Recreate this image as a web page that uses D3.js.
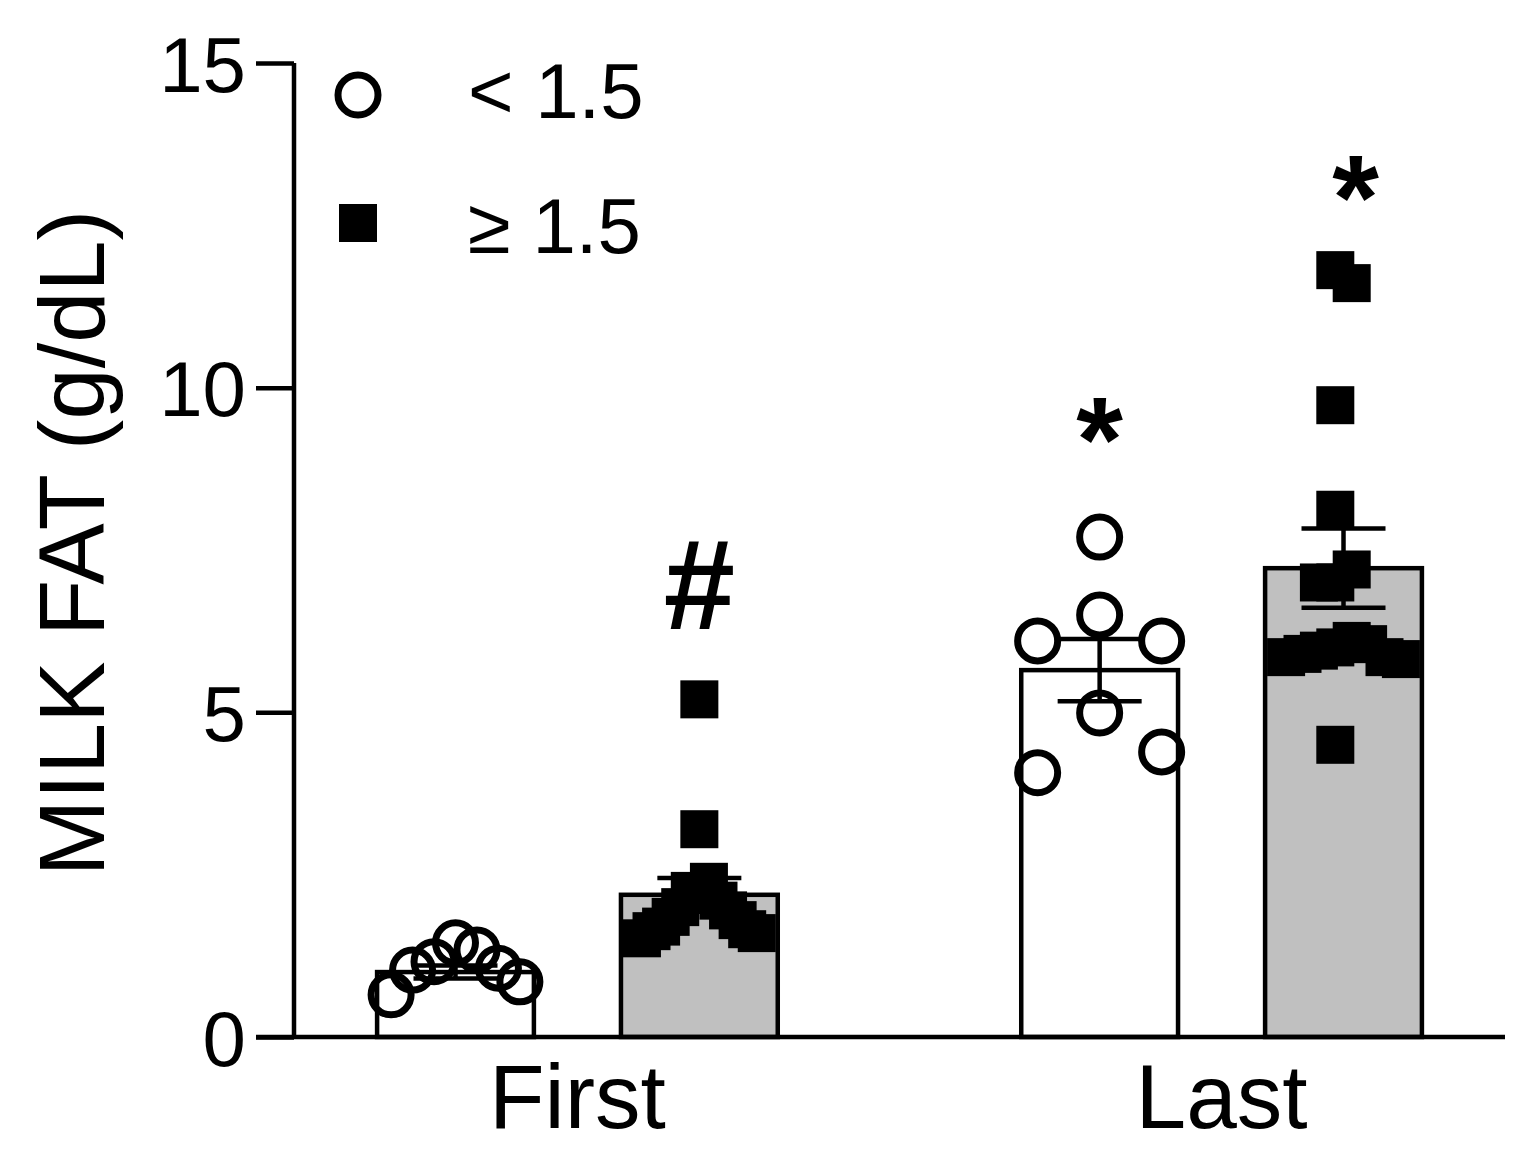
<!DOCTYPE html>
<html>
<head>
<meta charset="utf-8">
<script src="https://cdn.jsdelivr.net/npm/d3@7"></script>
<style>
  html, body { margin: 0; padding: 0; background: #fff; }
  svg { display: block; }
  text { font-family: "Liberation Sans", Arial, Helvetica, sans-serif; fill: #000; }
</style>
</head>
<body>
<svg id="chart" width="1533" height="1157"></svg>
<script>
// ---------------- data ----------------
const categories = ["First", "Last"];
const series = ["< 1.5", "\u2265 1.5"];
const yTicks = [0, 5, 10, 15];
const yLabel = "MILK FAT (g/dL)";

// bar means and SEM [First <1.5, First >=1.5, Last <1.5, Last >=1.5]
const barMeans = [1.0, 2.19, 5.65, 7.22];
const barSEM   = [0.10, 0.26, 0.48, 0.61];

// individual points
const firstLow  = [1.45, 1.34, 1.16, 1.06, 1.03, 0.85, 0.65];
const firstHigh = [5.2, 3.2, 2.39, 2.25, 2.2, 2.1, 2.0, 1.95, 1.85, 1.8, 1.7, 1.66, 1.63, 1.6, 1.52];
const lastLow   = [7.7, 6.5, 6.1, 6.1, 4.99, 4.39, 4.07];
const lastHigh  = [11.81, 11.61, 9.73, 8.12, 7.2, 7.0, 7.0, 6.1, 6.05, 6.0, 5.95, 5.9, 5.85, 5.85, 5.82, 4.5];

// significance marks (value at text baseline)
const marks = [
  { cat: "First", ser: "\u2265 1.5", text: "#", at: 6.28 },
  { cat: "Last",  ser: "< 1.5",       text: "*", at: 8.56 },
  { cat: "Last",  ser: "\u2265 1.5",  text: "*", at: 12.29 }
];

// ---------------- layout ----------------
const svg = d3.select("#chart");
const axisX = 294, axisY = 1037, topY = 63, rightX = 1505;
const black = "#000", grey = "#c0c0c0";
const lw = 4.5;

const y = d3.scaleLinear().domain([0, 15]).range([axisY, topY]);
const x0 = d3.scaleBand().domain(categories).range([axisX, rightX])
  .paddingInner(0.378).paddingOuter(0.129);
const x1 = d3.scaleBand().domain(series).range([0, x0.bandwidth()])
  .paddingInner(0.357).paddingOuter(0);

const groups = [
  { cat: "First", ser: series[0], vals: firstLow,  fill: "#fff", sym: "circle" },
  { cat: "First", ser: series[1], vals: firstHigh, fill: grey,   sym: "square" },
  { cat: "Last",  ser: series[0], vals: lastLow,   fill: "#fff", sym: "circle" },
  { cat: "Last",  ser: series[1], vals: lastHigh,  fill: grey,   sym: "square" }
];
groups.forEach((g, i) => { g.mean = barMeans[i]; g.sem = barSEM[i]; });

const bw = x1.bandwidth();
const circR = 20, circW = 7, sq = 38;

// lane-based scatter layout (deterministic)
function assignLanes(vals, thr) {
  const order = vals.map((v, i) => i).sort((a, b) => vals[b] - vals[a]);
  const lanes = new Array(vals.length);
  const placed = [];
  for (const i of order) {
    const yi = y(vals[i]);
    for (let k = 0; ; k++) {
      const lane = k === 0 ? 0 : (k % 2 ? (k + 1) / 2 : -k / 2);
      if (placed.every(p => p.lane !== lane || Math.abs(p.y - yi) >= thr)) {
        lanes[i] = lane; placed.push({ lane, y: yi }); break;
      }
    }
  }
  return lanes;
}

// ---------------- bars ----------------
groups.forEach(g => {
  const cx = x0(g.cat) + x1(g.ser);
  g.cx = cx + bw / 2;
  svg.append("rect")
    .attr("x", cx).attr("y", y(g.mean))
    .attr("width", bw).attr("height", axisY - y(g.mean))
    .attr("fill", g.fill).attr("stroke", black).attr("stroke-width", lw);
});

// ---------------- error bars ----------------
const capW = 84;
groups.forEach(g => {
  const e = svg.append("g").attr("stroke", black).attr("stroke-width", lw).attr("fill", "none");
  e.append("line").attr("x1", g.cx).attr("x2", g.cx)
    .attr("y1", y(g.mean + g.sem)).attr("y2", y(g.mean - g.sem));
  [g.mean + g.sem, g.mean - g.sem].forEach(v => {
    e.append("line").attr("x1", g.cx - capW / 2).attr("x2", g.cx + capW / 2)
      .attr("y1", y(v)).attr("y2", y(v));
  });
});

// ---------------- points ----------------
groups.forEach(g => {
  const lanes = assignLanes(g.vals, 62);
  const mn = d3.min(lanes), mx = d3.max(lanes);
  const span = mx - mn;
  const margin = g.sym === "circle" ? 28 : 42;
  const spacing = span ? Math.min(62, (bw - margin) / span) : 0;
  const shift = -(mn + mx) / 2;
  const pts = g.vals.map((v, i) => ({ v, px: g.cx + (lanes[i] + shift) * spacing }));
  if (g.sym === "circle") {
    svg.append("g").selectAll("circle").data(pts).join("circle")
      .attr("cx", d => d.px).attr("cy", d => y(d.v)).attr("r", circR)
      .attr("fill", "none").attr("stroke", black).attr("stroke-width", circW);
  } else {
    svg.append("g").selectAll("rect").data(pts).join("rect")
      .attr("x", d => d.px - sq / 2).attr("y", d => y(d.v) - sq / 2)
      .attr("width", sq).attr("height", sq).attr("fill", black);
  }
});

// ---------------- axes ----------------
const yAxis = d3.axisLeft(y).tickValues(yTicks).tickSize(38).tickPadding(10).tickFormat(d3.format("d"));
const ya = svg.append("g").attr("transform", `translate(${axisX},0)`).call(yAxis);
ya.select(".domain").attr("stroke", black).attr("stroke-width", lw)
  .attr("d", `M0,${topY}V${axisY}`);
ya.selectAll(".tick line").attr("stroke", black).attr("stroke-width", lw);
ya.selectAll(".tick text").attr("font-size", 78).attr("font-family", "Liberation Sans, Arial, sans-serif")
  .attr("fill", black).attr("dy", "0.36em").attr("x", -48);

const xAxis = d3.axisBottom(x0).tickSize(0).tickPadding(26);
const xa = svg.append("g").attr("transform", `translate(0,${axisY})`).call(xAxis);
xa.select(".domain").attr("stroke", black).attr("stroke-width", lw)
  .attr("d", `M${axisX - 38},0H${rightX}`);
xa.selectAll(".tick text").attr("font-size", 91).attr("font-family", "Liberation Sans, Arial, sans-serif")
  .attr("fill", black).attr("dy", "0.71em");

// y label
svg.append("text")
  .attr("transform", `translate(104,543) rotate(-90)`)
  .attr("text-anchor", "middle").attr("font-size", 92)
  .text(yLabel);

// ---------------- legend ----------------
const leg = svg.append("g");
leg.append("circle").attr("cx", 358).attr("cy", 95).attr("r", circR)
  .attr("fill", "none").attr("stroke", black).attr("stroke-width", circW);
leg.append("rect").attr("x", 358 - sq / 2).attr("y", 223 - sq / 2)
  .attr("width", sq).attr("height", sq).attr("fill", black);
leg.append("text").attr("x", 468).attr("y", 118).attr("font-size", 78).text(series[0]);
leg.append("text").attr("x", 468).attr("y", 253).attr("font-size", 78).text(series[1]);

// ---------------- significance marks ----------------
const markDx = [0, 0, 12];
marks.forEach((m, i) => {
  const g = groups.find(d => d.cat === m.cat && d.ser === m.ser);
  const isHash = m.text === "#";
  svg.append("text")
    .attr("x", g.cx + markDx[i]).attr("y", y(m.at))
    .attr("text-anchor", "middle")
    .attr("font-size", isHash ? 128 : 120)
    .attr("font-weight", "bold")
    .text(m.text);
});
</script>
</body>
</html>
